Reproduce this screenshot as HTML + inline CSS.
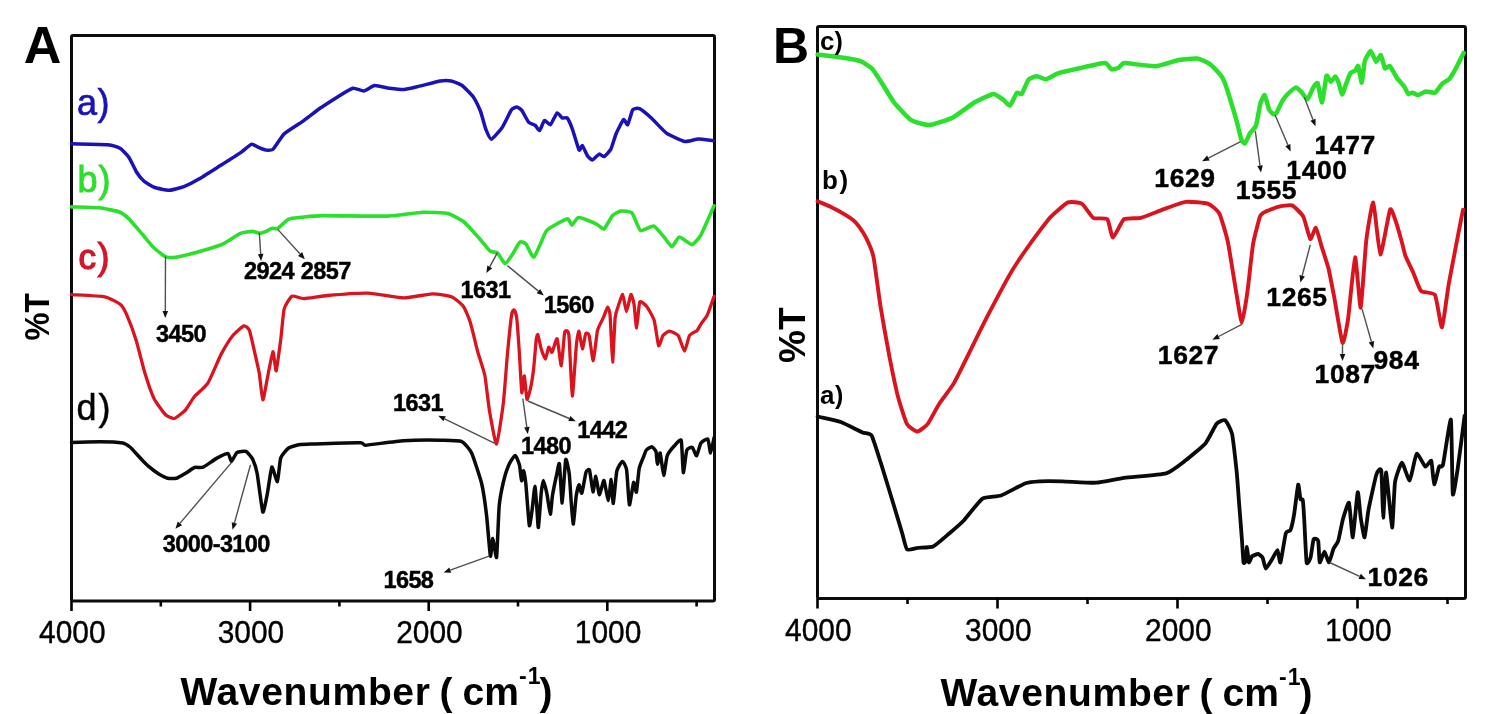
<!DOCTYPE html><html><head><meta charset="utf-8"><style>html,body{margin:0;padding:0;background:#fff;}svg{display:block;font-family:"Liberation Sans",sans-serif;filter:blur(0.45px);}</style></head><body>
<svg width="1489" height="714" viewBox="0 0 1489 714">
<rect width="1489" height="714" fill="#fff"/>
<rect x="71.5" y="35.5" width="643.0" height="565.5" rx="1.5" fill="none" stroke="#0c0c0c" stroke-width="3" stroke-linejoin="round"/><line x1="71.5" y1="601.0" x2="71.5" y2="611.0" stroke="#000" stroke-width="2.6"/><line x1="160.8" y1="601.0" x2="160.8" y2="606.5" stroke="#000" stroke-width="2.6"/><line x1="250.1" y1="601.0" x2="250.1" y2="611.0" stroke="#000" stroke-width="2.6"/><line x1="339.4" y1="601.0" x2="339.4" y2="606.5" stroke="#000" stroke-width="2.6"/><line x1="428.7" y1="601.0" x2="428.7" y2="611.0" stroke="#000" stroke-width="2.6"/><line x1="518.0" y1="601.0" x2="518.0" y2="606.5" stroke="#000" stroke-width="2.6"/><line x1="607.3" y1="601.0" x2="607.3" y2="611.0" stroke="#000" stroke-width="2.6"/><line x1="696.6" y1="601.0" x2="696.6" y2="606.5" stroke="#000" stroke-width="2.6"/>
<text x="0.0" y="0.0" font-size="31.8" font-weight="normal" text-anchor="middle" fill="#000" stroke="#000" stroke-width="0.4" transform="translate(72.3,643) scale(0.94,1)">4000</text>
<text x="0.0" y="0.0" font-size="31.8" font-weight="normal" text-anchor="middle" fill="#000" stroke="#000" stroke-width="0.4" transform="translate(250.9,643) scale(0.94,1)">3000</text>
<text x="0.0" y="0.0" font-size="31.8" font-weight="normal" text-anchor="middle" fill="#000" stroke="#000" stroke-width="0.4" transform="translate(429.5,643) scale(0.94,1)">2000</text>
<text x="0.0" y="0.0" font-size="31.8" font-weight="normal" text-anchor="middle" fill="#000" stroke="#000" stroke-width="0.4" transform="translate(608.1,643) scale(0.94,1)">1000</text>
<text x="23.8" y="63.4" font-size="52" font-weight="bold" text-anchor="start" fill="#000" >A</text>
<text x="180.5" y="705.0" font-size="39" font-weight="bold" letter-spacing="0.66">Wavenumber</text><text x="439.5" y="705.0" font-size="39" font-weight="bold">(</text><text x="462.5" y="705.0" font-size="39" font-weight="bold">cm</text><text x="519.0" y="684.0" font-size="23" font-weight="bold" letter-spacing="1.2">-1</text><text x="539.5" y="705.0" font-size="39" font-weight="bold">)</text>
<text x="0.0" y="0.0" font-size="35" font-weight="bold" text-anchor="middle" fill="#000" transform="translate(49.3,316.8) rotate(-90) scale(0.9,1)">%T</text>
<path d="M71.5,143.8 C74.5,143.9 103.4,144.3 107.4,144.7 C111.4,145.1 118.2,147.2 120.0,148.3 C121.8,149.4 127.6,155.4 129.0,157.4 C130.4,159.4 135.3,170.0 136.5,172.0 C137.7,174.0 142.3,179.7 143.8,181.0 C145.3,182.3 152.6,186.7 154.7,187.5 C156.8,188.3 166.9,190.3 169.3,190.2 C171.7,190.1 181.5,187.5 183.9,186.6 C186.3,185.7 195.4,181.1 198.4,179.3 C201.4,177.6 216.8,167.8 220.3,165.6 C223.8,163.4 237.7,154.7 240.3,152.9 C242.9,151.1 249.8,144.8 251.3,144.3 C252.8,143.8 257.3,146.9 258.5,147.4 C259.7,147.9 264.6,149.9 265.8,150.1 C267.0,150.2 271.6,150.5 273.1,149.2 C274.6,147.9 281.6,136.3 284.0,134.0 C286.4,131.7 298.9,124.0 301.9,121.9 C304.9,119.8 317.0,110.4 320.0,108.3 C323.0,106.2 335.6,98.1 338.3,96.4 C341.0,94.7 350.8,88.7 352.9,88.2 C355.0,87.8 362.0,91.2 363.8,91.0 C365.6,90.8 372.6,85.7 374.7,85.5 C376.8,85.3 386.9,87.9 389.3,88.2 C391.7,88.5 401.5,89.7 403.9,89.5 C406.3,89.3 415.4,87.1 418.4,86.4 C421.4,85.7 437.6,81.5 440.3,81.0 C443.0,80.5 449.4,80.6 451.2,81.0 C453.0,81.4 460.3,84.2 462.1,85.5 C463.9,86.8 471.5,94.3 473.0,96.4 C474.5,98.5 479.3,108.3 480.4,111.0 C481.5,113.7 484.9,126.8 485.8,129.2 C486.7,131.5 489.9,139.3 491.3,139.2 C492.7,139.0 500.5,129.8 502.2,127.4 C503.9,125.0 510.1,111.7 511.3,110.0 C512.5,108.3 515.9,107.0 516.8,107.0 C517.7,107.0 520.8,109.1 521.8,110.4 C522.8,111.7 527.5,120.9 528.6,122.2 C529.7,123.5 534.4,124.8 535.3,125.5 C536.2,126.2 538.7,131.0 539.5,130.6 C540.3,130.2 543.6,121.0 544.5,120.5 C545.4,120.0 549.4,125.3 550.4,124.7 C551.4,124.1 556.1,113.5 557.1,112.9 C558.1,112.3 561.4,117.6 562.2,118.0 C563.0,118.4 566.4,117.1 567.2,118.0 C568.0,118.9 571.3,126.2 572.3,128.9 C573.3,131.6 578.2,148.6 579.0,150.0 C579.8,151.4 581.7,145.2 582.4,145.7 C583.1,146.2 586.6,154.6 587.4,155.8 C588.2,157.0 591.4,160.1 592.4,160.0 C593.4,159.9 598.2,154.4 599.2,154.1 C600.2,153.8 603.2,157.0 604.2,156.6 C605.2,156.2 609.9,151.0 610.9,149.1 C611.9,147.2 615.0,136.4 616.0,134.0 C617.0,131.6 622.5,120.5 623.5,119.7 C624.5,118.9 626.9,125.5 627.7,124.7 C628.5,123.9 631.8,110.9 632.8,109.6 C633.8,108.3 638.0,108.0 639.5,108.7 C641.0,109.4 649.1,116.0 651.3,118.0 C653.5,120.0 663.6,131.1 666.4,133.1 C669.2,135.1 682.2,141.0 684.9,141.5 C687.6,142.0 695.9,139.1 698.3,139.0 C700.7,138.9 712.1,140.6 713.4,140.7" fill="none" stroke="#1a12b8" stroke-width="3.5" stroke-linejoin="round" stroke-linecap="round"/>
<path d="M71.5,206.9 C73.8,207.0 95.3,207.4 99.2,207.8 C103.1,208.2 116.3,210.9 118.8,211.8 C121.2,212.7 126.6,216.7 128.6,218.6 C130.6,220.5 140.3,231.9 142.4,234.3 C144.5,236.8 152.1,246.1 154.1,248.0 C156.1,249.9 163.9,256.2 165.9,256.9 C167.9,257.6 174.7,257.4 177.6,256.9 C180.5,256.4 197.4,252.1 201.2,251.0 C205.0,249.9 219.4,245.6 222.7,244.1 C226.0,242.6 237.9,234.4 240.4,233.3 C242.9,232.2 250.6,231.4 252.2,231.4 C253.8,231.4 258.9,233.3 260.0,233.3 C261.1,233.3 264.9,231.8 265.9,231.4 C266.9,231.0 270.8,228.7 271.8,228.4 C272.8,228.2 276.5,229.0 277.6,228.4 C278.7,227.8 284.5,222.4 285.5,221.6 C286.5,220.8 287.1,219.2 290.1,218.7 C293.1,218.2 313.9,215.8 322.0,215.6 C330.1,215.4 379.2,216.4 387.6,216.1 C396.0,215.8 417.9,212.5 422.9,212.3 C427.9,212.1 444.6,212.8 448.0,213.6 C451.4,214.4 461.4,220.0 464.0,222.0 C466.6,224.0 476.8,235.6 479.0,238.0 C481.2,240.4 488.5,249.8 490.0,251.0 C491.5,252.2 496.2,252.0 497.5,253.0 C498.8,254.0 503.8,263.3 505.0,263.5 C506.2,263.7 510.8,256.8 512.0,255.0 C513.2,253.2 518.8,242.9 520.0,242.0 C521.2,241.1 524.8,242.8 526.0,244.0 C527.2,245.2 532.3,258.1 534.0,257.0 C535.7,255.9 544.2,234.1 546.0,231.4 C547.8,228.7 553.2,226.1 555.0,225.0 C556.8,223.9 566.2,218.7 567.6,218.7 C569.0,218.7 571.1,225.1 572.0,225.0 C572.9,224.9 576.8,218.0 578.0,217.6 C579.2,217.2 585.3,219.4 587.0,220.0 C588.7,220.6 596.6,224.2 598.0,225.0 C599.4,225.8 602.8,229.8 604.0,229.0 C605.2,228.2 611.2,217.0 612.6,215.5 C614.0,214.0 619.4,211.2 621.0,211.0 C622.6,210.8 630.4,211.4 632.0,213.0 C633.6,214.6 638.7,229.4 640.5,230.5 C642.3,231.6 651.6,225.5 653.6,226.0 C655.6,226.5 662.5,235.3 664.0,237.0 C665.5,238.7 670.6,246.6 671.9,246.6 C673.2,246.6 677.7,237.2 679.4,237.0 C681.1,236.8 690.2,244.7 692.0,244.5 C693.8,244.3 699.2,238.0 701.0,234.8 C702.8,231.6 712.9,208.2 714.0,205.8" fill="none" stroke="#2ae02a" stroke-width="3.6" stroke-linejoin="round" stroke-linecap="round"/>
<path d="M71.5,294.6 C74.3,294.8 100.7,296.0 104.8,296.8 C108.9,297.6 118.6,303.0 120.5,304.6 C122.4,306.2 125.9,312.9 127.2,315.9 C128.5,318.9 134.7,335.6 136.2,340.5 C137.7,345.4 143.7,369.2 145.2,374.1 C146.7,379.0 152.4,395.4 154.1,398.8 C155.8,402.2 163.6,412.9 165.3,414.5 C167.0,416.1 172.6,418.9 174.3,418.5 C176.0,418.1 183.8,411.8 185.5,410.0 C187.2,408.2 192.6,398.7 194.5,396.5 C196.4,394.3 205.7,386.7 207.9,383.1 C210.1,379.6 219.2,357.8 221.3,353.9 C223.4,350.0 230.6,338.3 232.5,336.0 C234.4,333.7 242.4,326.4 243.8,325.9 C245.2,325.4 248.5,328.1 249.4,330.4 C250.3,332.7 254.2,350.3 255.0,353.9 C255.8,357.5 258.8,370.3 259.4,374.1 C260.0,377.9 262.1,399.5 262.8,399.9 C263.5,400.3 266.5,382.6 267.3,378.6 C268.1,374.6 272.2,352.3 272.9,351.7 C273.6,351.1 275.6,371.8 276.2,370.8 C276.8,369.8 280.0,345.1 280.7,340.0 C281.4,334.9 283.2,312.8 284.1,309.1 C285.0,305.5 290.3,297.1 291.9,296.2 C293.5,295.3 300.8,298.7 303.8,298.6 C306.8,298.5 322.2,296.0 327.6,295.5 C333.0,295.0 361.8,292.9 368.1,293.1 C374.5,293.3 398.4,297.8 403.8,297.9 C409.2,298.0 428.4,293.9 432.4,293.8 C436.4,293.7 448.8,295.7 451.4,296.7 C454.0,297.7 461.7,304.0 463.3,306.2 C464.9,308.4 469.3,319.1 470.5,322.9 C471.7,326.7 476.4,347.0 477.6,351.4 C478.8,355.8 483.8,370.2 484.8,375.2 C485.8,380.2 488.5,405.3 489.5,411.0 C490.5,416.7 495.3,444.7 496.5,444.0 C497.7,443.3 502.5,410.2 503.4,402.6 C504.3,395.0 506.9,359.6 507.6,352.2 C508.3,344.8 511.2,317.1 511.8,313.6 C512.4,310.1 513.9,309.8 514.3,310.2 C514.7,310.6 516.4,315.1 516.8,318.6 C517.2,322.1 518.9,346.0 519.3,352.2 C519.7,358.4 521.4,390.6 521.8,392.6 C522.2,394.6 524.0,375.2 524.4,375.8 C524.8,376.4 526.4,398.2 526.9,399.3 C527.4,400.4 529.7,391.7 530.3,389.2 C530.9,386.7 533.1,373.1 533.6,369.0 C534.1,364.9 535.8,343.4 536.1,340.5 C536.5,337.6 537.4,333.9 537.8,334.6 C538.2,335.3 540.6,346.9 541.2,348.9 C541.8,350.9 544.8,359.1 545.4,359.0 C546.0,358.9 548.1,347.8 548.7,347.2 C549.3,346.6 551.4,352.9 552.1,352.2 C552.8,351.5 556.3,337.7 557.1,338.8 C557.9,339.9 560.7,366.3 561.3,365.7 C561.9,365.1 564.1,334.6 564.7,332.1 C565.3,329.6 568.3,330.1 568.9,335.4 C569.5,340.7 571.7,395.3 572.3,396.0 C572.9,396.7 575.9,349.2 576.5,343.8 C577.1,338.4 578.5,330.8 579.0,331.2 C579.5,331.6 581.8,348.7 582.4,348.9 C583.0,349.1 585.1,334.8 585.7,333.7 C586.3,332.6 588.5,333.2 589.1,335.4 C589.7,337.6 592.6,361.0 593.3,360.6 C594.0,360.2 596.6,334.1 597.5,330.4 C598.4,326.7 603.0,318.5 603.8,316.6 C604.6,314.7 607.1,307.2 607.6,307.1 C608.1,307.0 609.7,310.7 610.1,315.3 C610.5,319.9 612.2,361.8 612.6,362.0 C613.0,362.2 614.7,322.3 615.1,317.8 C615.5,313.3 617.1,309.6 617.7,307.7 C618.3,305.8 622.0,294.2 622.7,294.5 C623.4,294.8 625.8,311.5 626.5,311.5 C627.2,311.5 630.3,295.1 630.9,294.5 C631.5,293.9 633.5,301.2 634.0,304.0 C634.5,306.8 636.1,328.1 636.6,327.9 C637.1,327.7 638.9,303.9 639.7,302.1 C640.5,300.3 645.5,305.0 646.7,306.5 C647.9,308.0 653.2,317.1 654.2,320.4 C655.2,323.7 657.9,344.3 658.6,345.6 C659.3,346.9 662.1,336.7 663.0,335.5 C663.9,334.3 668.1,331.1 669.4,331.1 C670.7,331.1 676.9,333.8 678.2,335.5 C679.5,337.2 683.6,351.2 684.5,351.2 C685.4,351.2 688.5,337.2 689.5,335.5 C690.5,333.8 696.1,331.3 697.1,330.4 C698.1,329.4 700.1,325.4 700.9,324.1 C701.7,322.8 706.1,317.6 707.2,315.3 C708.3,313.0 713.5,298.0 714.1,296.4" fill="none" stroke="#da141f" stroke-width="3.3" stroke-linejoin="round" stroke-linecap="round"/>
<path d="M71.5,442.4 C73.9,442.3 96.0,441.7 100.3,441.7 C104.6,441.7 120.2,442.5 122.7,442.9 C125.2,443.3 128.9,446.1 130.0,447.0 C131.1,447.9 135.1,452.4 136.2,453.6 C137.3,454.8 141.9,459.9 143.0,461.0 C144.1,462.1 148.3,466.2 149.6,467.2 C150.8,468.2 156.5,472.6 158.0,473.5 C159.5,474.4 166.1,477.8 167.6,478.2 C169.1,478.6 175.0,478.6 176.5,478.2 C178.0,477.8 184.5,473.9 186.0,473.0 C187.5,472.1 193.1,468.0 194.5,467.5 C195.9,467.0 201.5,467.9 203.4,467.1 C205.3,466.3 214.8,459.2 216.9,458.1 C219.0,457.0 226.9,453.3 228.1,453.6 C229.3,453.9 230.7,461.6 231.4,461.5 C232.1,461.4 235.8,453.3 237.0,452.5 C238.2,451.7 244.7,450.8 246.0,451.4 C247.3,452.0 251.8,457.3 252.7,459.2 C253.6,461.1 256.4,469.4 257.2,473.8 C258.0,478.2 262.0,510.2 262.8,511.9 C263.6,513.6 266.6,497.6 267.3,493.9 C268.1,490.2 271.0,468.1 271.8,467.1 C272.6,466.1 276.7,482.4 277.4,481.6 C278.1,480.9 279.8,460.9 280.7,458.1 C281.6,455.3 287.0,449.1 288.6,448.0 C290.2,446.9 297.8,444.9 300.0,444.6 C302.2,444.3 310.1,444.1 315.2,443.9 C320.2,443.7 356.4,442.6 360.6,442.7 C364.8,442.8 362.0,445.4 365.6,445.2 C369.2,445.0 397.1,441.1 403.4,440.7 C409.7,440.3 436.4,440.1 441.2,440.2 C446.0,440.3 458.9,440.3 461.4,441.4 C463.9,442.4 469.8,449.3 471.5,452.8 C473.2,456.3 480.2,477.8 481.5,483.0 C482.8,488.2 485.9,509.7 486.6,515.8 C487.3,521.9 489.9,554.2 490.4,556.1 C490.9,558.0 492.4,538.3 492.9,538.4 C493.4,538.5 496.1,560.0 496.6,557.3 C497.1,554.6 498.6,512.1 499.2,505.8 C499.8,499.5 502.6,485.4 503.4,482.0 C504.2,478.6 508.0,466.7 509.0,464.5 C510.0,462.3 514.4,455.3 515.3,455.4 C516.2,455.5 519.0,463.1 519.5,465.2 C520.0,467.3 521.2,480.1 521.6,480.6 C522.0,481.1 523.4,470.6 523.7,470.8 C524.1,471.0 525.3,478.8 525.8,483.4 C526.3,487.9 528.8,523.2 529.3,525.4 C529.8,527.6 531.6,513.3 532.1,510.0 C532.6,506.7 534.5,486.2 534.9,486.2 C535.3,486.2 536.7,506.6 537.0,510.0 C537.3,513.4 538.0,528.9 538.4,527.5 C538.8,526.1 540.8,497.1 541.2,493.2 C541.6,489.3 542.8,480.6 543.3,480.6 C543.8,480.6 546.2,490.4 546.8,493.2 C547.4,496.0 549.8,514.0 550.3,514.2 C550.8,514.4 551.9,499.3 552.4,496.0 C552.9,492.7 556.0,477.7 556.6,475.0 C557.2,472.3 558.9,461.5 559.4,463.8 C559.9,466.1 561.7,503.4 562.2,503.0 C562.7,502.6 565.1,462.1 565.7,459.6 C566.3,457.2 568.7,470.0 569.2,473.6 C569.7,477.2 570.9,498.8 571.3,503.0 C571.6,507.2 573.0,524.6 573.4,524.0 C573.8,523.4 575.7,499.3 576.2,496.0 C576.7,492.7 578.5,485.0 579.0,484.8 C579.5,484.6 581.2,494.2 581.8,493.2 C582.4,492.1 585.4,474.1 586.0,472.2 C586.6,470.3 588.9,468.5 589.5,470.1 C590.1,471.7 592.5,491.3 593.0,491.8 C593.5,492.3 595.3,476.2 595.8,476.4 C596.3,476.6 598.7,494.0 599.3,494.6 C599.9,495.2 602.4,484.5 602.8,483.4 C603.2,482.3 603.7,479.6 604.2,481.0 C604.7,482.4 607.8,500.7 608.4,500.6 C609.0,500.5 610.8,479.4 611.2,479.6 C611.6,479.8 612.8,504.1 613.3,503.4 C613.8,502.7 616.0,474.7 616.8,471.2 C617.6,467.7 621.6,461.5 622.4,461.4 C623.2,461.3 626.0,466.2 626.6,469.8 C627.2,473.4 628.8,503.8 629.4,504.8 C630.0,505.9 633.0,483.4 633.6,482.4 C634.2,481.3 635.9,493.4 636.4,492.2 C636.9,491.0 638.6,471.3 639.2,468.4 C639.8,465.5 642.8,458.7 643.4,457.2 C644.0,455.7 645.5,451.1 646.2,450.2 C646.9,449.3 651.0,446.6 651.8,446.7 C652.6,446.8 655.5,450.1 656.0,451.6 C656.5,453.1 657.0,464.1 657.4,464.2 C657.8,464.3 659.7,452.1 660.2,453.0 C660.7,453.9 663.1,475.2 663.7,475.4 C664.3,475.6 666.3,458.2 667.2,455.8 C668.1,453.4 673.0,447.3 674.2,446.0 C675.4,444.7 680.4,438.2 681.2,440.4 C682.0,442.6 682.8,471.8 683.3,472.6 C683.8,473.4 686.0,452.3 686.8,450.2 C687.6,448.1 691.6,446.9 692.4,447.4 C693.2,447.9 695.9,456.2 696.6,455.8 C697.3,455.4 699.9,444.6 700.8,443.2 C701.7,441.8 707.0,438.2 707.8,439.0 C708.6,439.8 710.1,453.1 710.6,453.0 C711.1,452.9 713.8,438.9 714.1,437.6" fill="none" stroke="#0a0a0a" stroke-width="3.5" stroke-linejoin="round" stroke-linecap="round"/>
<text x="77.0" y="114.6" font-size="36" font-weight="normal" text-anchor="start" fill="#1a12b8" stroke-width="0.7" stroke="#1a12b8">a</text>
<text x="97.5" y="114.6" font-size="36" font-weight="normal" text-anchor="start" fill="#1a12b8" stroke-width="0.7" stroke="#1a12b8">)</text>
<text x="77.5" y="191.5" font-size="36" font-weight="normal" text-anchor="start" fill="#2ae02a" stroke-width="0.9" stroke="#2ae02a">b</text>
<text x="98.5" y="191.5" font-size="36" font-weight="normal" text-anchor="start" fill="#2ae02a" stroke-width="0.9" stroke="#2ae02a">)</text>
<text x="78.5" y="269.0" font-size="35" font-weight="normal" text-anchor="start" fill="#d41628" stroke-width="1.4" stroke="#d41628">c</text>
<text x="97.5" y="268.5" font-size="36" font-weight="normal" text-anchor="start" fill="#d41628" stroke-width="1.1" stroke="#d41628">)</text>
<text x="76.5" y="420.0" font-size="36" font-weight="normal" text-anchor="start" fill="#000" stroke-width="0.5" stroke="#000">d</text>
<text x="98.5" y="420.0" font-size="36" font-weight="normal" text-anchor="start" fill="#000" stroke-width="0.5" stroke="#000">)</text>
<line x1="165.5" y1="256.4" x2="165.3" y2="311.0" stroke="#505050" stroke-width="1.4"/><polygon points="165.3,318.0 162.5,311.0 168.1,311.0" fill="#111"/>
<text x="181.0" y="342.0" font-size="23.5" font-weight="bold" text-anchor="middle" fill="#000" letter-spacing="-0.6" stroke="#000" stroke-width="0.45">3450</text>
<line x1="259.3" y1="232.7" x2="260.7" y2="254.0" stroke="#505050" stroke-width="1.4"/><polygon points="261.1,261.0 257.9,254.2 263.5,253.8" fill="#111"/>
<text x="269.0" y="279.2" font-size="23.5" font-weight="bold" text-anchor="middle" fill="#000" letter-spacing="-0.6" stroke="#000" stroke-width="0.45">2924</text>
<line x1="277.5" y1="229.1" x2="300.1" y2="254.0" stroke="#505050" stroke-width="1.4"/><polygon points="304.8,259.2 298.0,255.9 302.2,252.1" fill="#111"/>
<text x="325.8" y="279.2" font-size="23.5" font-weight="bold" text-anchor="middle" fill="#000" letter-spacing="-0.6" stroke="#000" stroke-width="0.45">2857</text>
<line x1="497.3" y1="252.8" x2="489.7" y2="266.8" stroke="#505050" stroke-width="1.4"/><polygon points="486.4,273.0 487.3,265.5 492.2,268.2" fill="#111"/>
<text x="485.5" y="297.5" font-size="23.5" font-weight="bold" text-anchor="middle" fill="#000" letter-spacing="-0.6" stroke="#000" stroke-width="0.45">1631</text>
<line x1="507.4" y1="265.6" x2="538.4" y2="291.1" stroke="#505050" stroke-width="1.4"/><polygon points="543.8,295.6 536.6,293.3 540.2,289.0" fill="#111"/>
<text x="568.8" y="312.8" font-size="23.5" font-weight="bold" text-anchor="middle" fill="#000" letter-spacing="-0.6" stroke="#000" stroke-width="0.45">1560</text>
<line x1="494.3" y1="443.1" x2="444.6" y2="418.8" stroke="#505050" stroke-width="1.4"/><polygon points="438.3,415.7 445.8,416.3 443.4,421.3" fill="#111"/>
<text x="418.0" y="411.0" font-size="23.5" font-weight="bold" text-anchor="middle" fill="#000" letter-spacing="-0.6" stroke="#000" stroke-width="0.45">1631</text>
<line x1="522.8" y1="398.5" x2="526.8" y2="427.1" stroke="#505050" stroke-width="1.4"/><polygon points="527.8,434.0 524.1,427.5 529.6,426.7" fill="#111"/>
<text x="546.0" y="454.0" font-size="23.5" font-weight="bold" text-anchor="middle" fill="#000" letter-spacing="-0.6" stroke="#000" stroke-width="0.45">1480</text>
<line x1="527.8" y1="401.0" x2="569.3" y2="418.5" stroke="#505050" stroke-width="1.4"/><polygon points="575.8,421.2 568.3,421.1 570.4,415.9" fill="#111"/>
<text x="602.2" y="437.6" font-size="23.5" font-weight="bold" text-anchor="middle" fill="#000" letter-spacing="-0.6" stroke="#000" stroke-width="0.45">1442</text>
<line x1="231.4" y1="462.6" x2="179.9" y2="523.4" stroke="#505050" stroke-width="1.4"/><polygon points="175.4,528.7 177.8,521.5 182.1,525.2" fill="#111"/>
<line x1="250.5" y1="464.8" x2="234.4" y2="523.1" stroke="#505050" stroke-width="1.4"/><polygon points="232.5,529.8 231.7,522.3 237.1,523.8" fill="#111"/>
<text x="216.3" y="552.2" font-size="23.5" font-weight="bold" text-anchor="middle" fill="#000" letter-spacing="-0.6" stroke="#000" stroke-width="0.45">3000-3100</text>
<line x1="489.1" y1="556.1" x2="450.3" y2="570.1" stroke="#505050" stroke-width="1.4"/><polygon points="443.7,572.5 449.3,567.5 451.2,572.8" fill="#111"/>
<text x="408.4" y="587.6" font-size="23.5" font-weight="bold" text-anchor="middle" fill="#000" letter-spacing="-0.6" stroke="#000" stroke-width="0.45">1658</text>
<rect x="817.5" y="26.5" width="648.0" height="572.0" rx="1.5" fill="none" stroke="#0c0c0c" stroke-width="3" stroke-linejoin="round"/><line x1="817.5" y1="598.5" x2="817.5" y2="608.5" stroke="#000" stroke-width="2.6"/><line x1="907.5" y1="598.5" x2="907.5" y2="604.0" stroke="#000" stroke-width="2.6"/><line x1="997.5" y1="598.5" x2="997.5" y2="608.5" stroke="#000" stroke-width="2.6"/><line x1="1087.5" y1="598.5" x2="1087.5" y2="604.0" stroke="#000" stroke-width="2.6"/><line x1="1177.5" y1="598.5" x2="1177.5" y2="608.5" stroke="#000" stroke-width="2.6"/><line x1="1267.5" y1="598.5" x2="1267.5" y2="604.0" stroke="#000" stroke-width="2.6"/><line x1="1357.5" y1="598.5" x2="1357.5" y2="608.5" stroke="#000" stroke-width="2.6"/><line x1="1447.5" y1="598.5" x2="1447.5" y2="604.0" stroke="#000" stroke-width="2.6"/>
<text x="0.0" y="0.0" font-size="31.8" font-weight="normal" text-anchor="middle" fill="#000" stroke="#000" stroke-width="0.4" transform="translate(818.3,641) scale(0.94,1)">4000</text>
<text x="0.0" y="0.0" font-size="31.8" font-weight="normal" text-anchor="middle" fill="#000" stroke="#000" stroke-width="0.4" transform="translate(998.3,641) scale(0.94,1)">3000</text>
<text x="0.0" y="0.0" font-size="31.8" font-weight="normal" text-anchor="middle" fill="#000" stroke="#000" stroke-width="0.4" transform="translate(1178.3,641) scale(0.94,1)">2000</text>
<text x="0.0" y="0.0" font-size="31.8" font-weight="normal" text-anchor="middle" fill="#000" stroke="#000" stroke-width="0.4" transform="translate(1358.3,641) scale(0.94,1)">1000</text>
<text x="773.0" y="63.0" font-size="50" font-weight="bold" text-anchor="start" fill="#000" >B</text>
<text x="940.5" y="706.2" font-size="39" font-weight="bold" letter-spacing="0.66">Wavenumber</text><text x="1199.5" y="706.2" font-size="39" font-weight="bold">(</text><text x="1222.5" y="706.2" font-size="39" font-weight="bold">cm</text><text x="1279.0" y="685.2" font-size="23" font-weight="bold" letter-spacing="1.2">-1</text><text x="1299.5" y="706.2" font-size="39" font-weight="bold">)</text>
<text x="0.0" y="0.0" font-size="37" font-weight="bold" text-anchor="middle" fill="#000" transform="translate(805.4,335.2) rotate(-90)">%T</text>
<path d="M817.6,54.4 C819.8,54.7 840.0,57.1 843.6,57.7 C847.2,58.3 858.0,60.2 860.4,61.1 C862.8,62.0 870.4,66.8 872.2,68.7 C874.0,70.6 880.5,81.0 882.3,83.8 C884.1,86.6 891.6,99.3 894.0,102.3 C896.4,105.3 907.9,118.0 910.8,119.9 C913.7,121.8 925.8,125.2 929.3,125.0 C932.8,124.8 949.1,119.3 952.9,117.4 C956.7,115.5 971.3,104.3 974.7,102.3 C978.1,100.3 990.8,94.1 993.2,93.9 C995.6,93.7 1001.9,98.7 1003.3,99.7 C1004.7,100.7 1008.9,106.2 1010.0,105.6 C1011.1,105.0 1015.7,94.0 1016.7,93.0 C1017.7,92.0 1020.8,95.0 1021.8,93.9 C1022.8,92.8 1027.2,81.1 1028.5,79.6 C1029.8,78.1 1035.4,76.2 1036.9,76.2 C1038.4,76.2 1044.4,79.6 1046.2,79.3 C1048.0,79.0 1055.8,74.0 1058.5,73.1 C1061.2,72.2 1074.7,69.3 1078.5,68.5 C1082.3,67.7 1101.9,63.0 1104.7,63.1 C1107.5,63.2 1110.4,68.9 1111.6,69.3 C1112.8,69.7 1117.5,68.3 1118.6,67.8 C1119.7,67.3 1121.6,63.2 1124.7,63.1 C1127.8,63.0 1151.1,66.5 1155.6,66.2 C1160.1,65.9 1175.2,60.6 1178.7,60.0 C1182.2,59.4 1194.6,58.2 1197.2,58.5 C1199.8,58.8 1207.6,62.5 1209.5,63.9 C1211.4,65.2 1219.0,73.2 1220.3,74.7 C1221.5,76.2 1223.6,79.7 1224.5,82.0 C1225.4,84.3 1230.0,98.7 1231.0,102.0 C1232.0,105.3 1236.0,118.4 1236.8,121.5 C1237.6,124.6 1240.5,137.3 1241.2,139.1 C1241.9,140.9 1244.2,144.0 1244.9,143.5 C1245.6,143.0 1249.1,134.7 1250.0,133.2 C1250.9,131.7 1255.0,128.3 1255.9,125.9 C1256.8,123.5 1259.6,106.4 1260.3,103.8 C1261.0,101.2 1264.0,94.5 1264.7,95.0 C1265.4,95.5 1268.4,108.1 1269.1,109.7 C1269.8,111.3 1272.9,113.9 1273.5,114.1 C1274.1,114.3 1275.8,113.7 1276.5,112.6 C1277.2,111.5 1281.5,102.4 1282.4,100.9 C1283.3,99.4 1285.7,96.1 1286.8,95.0 C1287.9,93.9 1294.4,87.8 1295.6,87.6 C1296.8,87.4 1300.5,91.1 1301.5,92.1 C1302.5,93.1 1306.4,99.8 1307.4,99.4 C1308.4,99.0 1312.4,88.9 1313.2,87.6 C1314.0,86.2 1316.9,82.0 1317.6,83.2 C1318.3,84.4 1321.4,103.0 1322.1,102.4 C1322.8,101.8 1325.8,77.6 1326.5,75.9 C1327.2,74.2 1330.2,81.7 1330.9,81.8 C1331.6,81.9 1334.7,76.5 1335.3,76.6 C1335.9,76.7 1338.0,81.1 1338.6,82.6 C1339.2,84.1 1341.5,94.3 1342.1,94.5 C1342.7,94.7 1345.0,86.8 1345.7,85.0 C1346.4,83.2 1349.7,74.3 1350.5,73.1 C1351.3,71.9 1354.6,71.3 1355.2,70.7 C1355.8,70.1 1357.7,65.0 1358.2,66.0 C1358.8,67.0 1361.2,83.0 1361.8,82.6 C1362.3,82.2 1364.1,63.8 1364.8,61.2 C1365.5,58.6 1369.8,51.1 1370.7,51.1 C1371.6,51.1 1375.3,61.5 1376.1,61.8 C1376.9,62.1 1380.1,54.7 1380.8,55.2 C1381.5,55.7 1384.2,67.4 1385.0,68.3 C1385.8,69.2 1388.8,65.2 1389.8,66.0 C1390.8,66.8 1395.7,76.2 1396.9,77.9 C1398.1,79.6 1403.1,84.9 1404.0,86.2 C1404.9,87.5 1407.5,93.4 1408.2,93.9 C1408.9,94.4 1411.6,92.6 1412.4,92.7 C1413.2,92.8 1417.2,95.2 1418.3,95.1 C1419.4,95.0 1424.1,91.7 1425.5,91.5 C1426.9,91.3 1433.6,93.3 1435.0,92.7 C1436.4,92.1 1440.9,84.9 1442.1,83.8 C1443.3,82.7 1448.2,80.2 1449.3,79.0 C1450.4,77.8 1454.0,71.7 1455.2,69.5 C1456.4,67.3 1462.9,54.3 1463.6,52.9" fill="none" stroke="#2ae02a" stroke-width="4.5" stroke-linejoin="round" stroke-linecap="round"/>
<path d="M817.6,201.3 C818.7,201.8 828.7,205.8 831.0,206.9 C833.3,208.0 843.0,213.4 845.0,214.6 C847.0,215.8 853.3,220.1 854.8,221.6 C856.3,223.1 861.9,230.7 863.2,232.8 C864.5,234.9 869.3,244.7 870.2,246.8 C871.1,248.9 872.8,253.0 873.7,258.0 C874.6,263.0 879.3,298.8 880.6,307.0 C881.9,315.2 887.9,348.9 889.4,356.5 C890.9,364.1 896.7,392.0 898.2,397.6 C899.7,403.2 905.4,421.3 907.0,424.1 C908.6,426.9 915.7,431.5 917.4,431.5 C919.1,431.5 925.8,426.4 927.6,424.1 C929.4,421.8 937.2,406.9 939.4,403.5 C941.6,400.1 951.4,387.6 954.1,382.9 C956.8,378.2 968.9,353.5 971.8,347.6 C974.7,341.7 986.2,318.5 989.4,312.4 C992.6,306.3 1007.1,279.2 1010.0,274.1 C1012.9,269.0 1022.2,255.1 1024.7,251.5 C1027.2,247.9 1037.8,233.3 1040.0,230.4 C1042.2,227.5 1048.9,218.7 1051.2,216.4 C1053.5,214.1 1065.4,203.5 1068.0,202.4 C1070.6,201.3 1079.9,202.5 1082.0,203.8 C1084.1,205.1 1091.2,216.5 1093.3,217.8 C1095.4,219.1 1105.7,217.6 1107.3,219.2 C1108.9,220.8 1111.5,237.5 1112.9,237.5 C1114.3,237.5 1121.8,220.8 1124.1,219.2 C1126.4,217.6 1137.6,218.6 1140.9,217.8 C1144.2,217.0 1159.6,210.7 1163.3,209.4 C1167.0,208.1 1182.0,202.4 1185.7,201.9 C1189.4,201.4 1205.4,202.8 1208.2,203.8 C1211.0,204.8 1217.8,210.4 1219.4,213.6 C1221.0,216.8 1226.4,235.2 1227.8,241.7 C1229.2,248.2 1235.0,285.3 1236.2,292.1 C1237.4,298.9 1240.9,322.9 1241.8,322.9 C1242.7,322.9 1246.5,298.6 1247.4,292.1 C1248.3,285.6 1252.0,250.8 1253.0,244.5 C1254.0,238.2 1259.1,219.1 1260.0,216.4 C1260.9,213.7 1262.5,213.2 1264.0,212.4 C1265.5,211.6 1275.7,207.4 1278.0,206.8 C1280.3,206.2 1289.9,204.6 1292.0,205.4 C1294.1,206.2 1301.8,213.8 1303.3,216.6 C1304.8,219.4 1309.2,238.1 1310.3,239.0 C1311.3,239.9 1315.0,227.2 1315.9,227.8 C1316.8,228.4 1320.5,242.7 1321.5,246.1 C1322.5,249.5 1327.5,264.3 1328.5,268.5 C1329.5,272.7 1332.9,290.3 1334.1,296.5 C1335.3,302.7 1341.3,340.8 1342.5,342.7 C1343.7,344.6 1347.0,326.0 1348.1,318.9 C1349.1,311.8 1354.0,258.2 1355.1,257.3 C1356.1,256.4 1359.8,309.1 1360.7,307.7 C1361.6,306.3 1365.2,249.2 1366.3,240.4 C1367.3,231.6 1372.1,201.4 1373.3,202.6 C1374.5,203.8 1378.9,253.9 1380.3,254.5 C1381.7,255.1 1388.8,212.3 1390.1,209.6 C1391.4,206.9 1395.1,219.5 1396.0,222.0 C1396.9,224.5 1400.5,237.2 1401.3,240.0 C1402.1,242.8 1404.5,253.3 1405.5,256.0 C1406.5,258.7 1411.7,269.1 1413.0,272.0 C1414.3,274.9 1419.2,289.0 1421.0,290.9 C1422.8,292.8 1433.2,292.1 1435.0,295.1 C1436.8,298.1 1440.8,328.4 1442.0,327.3 C1443.2,326.2 1447.2,292.3 1449.0,282.5 C1450.8,272.7 1461.8,215.7 1463.0,209.6" fill="none" stroke="#da141f" stroke-width="3.9" stroke-linejoin="round" stroke-linecap="round"/>
<path d="M817.6,416.5 C819.5,417.0 837.1,420.7 840.8,422.0 C844.5,423.3 859.8,431.3 862.4,432.4 C865.0,433.5 870.1,432.9 871.6,435.5 C873.1,438.1 879.1,457.6 880.9,463.2 C882.7,468.8 891.4,497.3 893.2,503.2 C895.0,509.1 901.2,530.1 902.4,534.0 C903.5,537.9 905.7,548.2 907.0,549.4 C908.3,550.6 915.6,548.1 917.8,547.9 C920.0,547.6 930.6,547.6 933.2,546.4 C935.8,545.2 946.0,536.2 948.6,534.0 C951.2,531.8 961.2,523.2 964.0,520.2 C966.8,517.2 979.4,500.7 982.5,498.6 C985.6,496.5 997.4,496.8 1001.0,495.5 C1004.6,494.2 1022.3,484.4 1025.6,483.2 C1028.8,482.0 1036.9,481.5 1040.0,481.3 C1043.1,481.1 1057.7,481.2 1062.4,481.3 C1067.1,481.4 1090.9,483.0 1096.0,482.7 C1101.1,482.4 1118.3,478.7 1124.1,477.9 C1129.9,477.1 1161.0,474.9 1166.1,473.4 C1171.2,471.9 1182.4,462.8 1185.7,460.3 C1189.0,457.8 1202.8,446.4 1205.4,443.4 C1208.0,440.4 1215.0,425.7 1216.6,423.8 C1218.2,421.9 1223.7,419.4 1225.0,420.2 C1226.3,421.0 1231.0,429.5 1232.0,433.6 C1233.0,437.8 1235.9,464.4 1236.5,470.0 C1237.1,475.6 1238.5,495.0 1238.9,500.8 C1239.4,506.6 1241.5,534.2 1241.9,539.3 C1242.3,544.4 1243.2,560.6 1243.5,562.4 C1243.8,564.2 1245.5,562.2 1245.8,560.9 C1246.1,559.6 1246.7,546.9 1247.0,547.0 C1247.3,547.1 1248.5,561.6 1248.9,562.4 C1249.3,563.2 1251.2,557.0 1252.0,556.3 C1252.8,555.6 1257.2,553.9 1258.1,554.0 C1259.0,554.1 1262.1,556.6 1262.7,557.8 C1263.3,559.0 1265.0,568.5 1265.8,568.6 C1266.6,568.7 1271.0,560.9 1272.0,559.4 C1273.0,557.9 1276.7,549.9 1277.4,550.1 C1278.1,550.4 1279.8,563.8 1280.5,562.4 C1281.2,561.0 1285.0,535.9 1285.8,533.2 C1286.6,530.5 1289.8,531.8 1290.5,530.1 C1291.2,528.4 1293.7,516.9 1294.3,513.1 C1294.9,509.3 1297.7,485.8 1298.2,484.6 C1298.7,483.5 1300.1,498.0 1300.5,499.3 C1300.9,500.6 1302.5,498.2 1302.8,500.0 C1303.1,501.8 1304.0,515.6 1304.3,520.8 C1304.6,526.0 1306.1,559.3 1306.6,562.4 C1307.1,565.5 1309.9,559.7 1310.5,557.8 C1311.1,555.9 1313.0,540.7 1313.6,539.3 C1314.2,537.9 1317.7,539.0 1318.2,540.9 C1318.7,542.8 1319.2,561.5 1319.7,562.4 C1320.2,563.3 1323.6,551.7 1324.4,551.7 C1325.2,551.7 1328.2,562.7 1329.0,562.4 C1329.8,562.1 1332.8,550.4 1333.6,548.6 C1334.4,546.8 1337.4,543.3 1338.2,540.9 C1339.0,538.5 1342.0,522.5 1342.9,519.3 C1343.8,516.1 1348.2,501.3 1349.0,502.8 C1349.8,504.3 1352.1,538.2 1352.8,537.3 C1353.5,536.4 1357.0,493.8 1357.7,492.2 C1358.4,490.6 1360.1,513.8 1360.7,517.6 C1361.3,521.4 1363.9,537.9 1364.6,537.3 C1365.2,536.6 1367.5,515.0 1368.5,509.8 C1369.5,504.6 1375.3,477.8 1376.4,474.5 C1377.5,471.2 1380.7,467.0 1381.3,470.6 C1381.9,474.2 1382.8,517.4 1383.2,517.6 C1383.6,517.8 1385.5,471.7 1386.2,472.5 C1386.9,473.3 1391.4,526.7 1392.1,527.5 C1392.8,528.3 1394.2,487.8 1395.0,482.4 C1395.8,477.0 1400.7,462.9 1401.9,462.7 C1403.1,462.5 1408.5,481.1 1409.7,480.4 C1410.9,479.7 1415.3,455.0 1416.6,453.9 C1417.9,452.8 1424.2,466.1 1425.4,466.7 C1426.6,467.3 1430.6,459.3 1431.3,460.8 C1432.0,462.3 1433.5,483.8 1434.2,484.3 C1434.9,484.8 1438.4,468.3 1439.1,466.7 C1439.8,465.1 1442.0,468.6 1443.0,464.7 C1444.0,460.8 1450.1,417.2 1450.9,419.6 C1451.7,422.1 1452.2,490.0 1452.8,494.1 C1453.4,498.2 1456.7,475.1 1457.7,468.6 C1458.7,462.1 1464.0,420.1 1464.6,415.7" fill="none" stroke="#0a0a0a" stroke-width="3.8" stroke-linejoin="round" stroke-linecap="round"/>
<text x="820.0" y="50.2" font-size="26" font-weight="bold" text-anchor="start" fill="#000" >c</text>
<text x="834.5" y="50.2" font-size="25" font-weight="bold" text-anchor="start" fill="#000" >)</text>
<text x="822.0" y="189.4" font-size="26" font-weight="bold" text-anchor="start" fill="#000" >b</text>
<text x="839.5" y="189.4" font-size="26" font-weight="bold" text-anchor="start" fill="#000" >)</text>
<text x="820.0" y="403.8" font-size="26" font-weight="bold" text-anchor="start" fill="#000" >a</text>
<text x="835.0" y="403.8" font-size="25" font-weight="bold" text-anchor="start" fill="#000" >)</text>
<line x1="1240.6" y1="141.7" x2="1208.3" y2="158.1" stroke="#505050" stroke-width="1.4"/><polygon points="1202.1,161.3 1207.1,155.6 1209.6,160.6" fill="#111"/>
<text x="1185.0" y="187.2" font-size="26.5" font-weight="bold" text-anchor="middle" fill="#000" letter-spacing="0.6" stroke="#000" stroke-width="0.45">1629</text>
<line x1="1255.3" y1="131.2" x2="1260.0" y2="165.6" stroke="#505050" stroke-width="1.4"/><polygon points="1261.0,172.5 1257.3,165.9 1262.8,165.2" fill="#111"/>
<text x="1266.5" y="199.1" font-size="26.5" font-weight="bold" text-anchor="middle" fill="#000" letter-spacing="0.6" stroke="#000" stroke-width="0.45">1555</text>
<line x1="1275.1" y1="115.1" x2="1287.9" y2="145.1" stroke="#505050" stroke-width="1.4"/><polygon points="1290.6,151.5 1285.3,146.2 1290.4,144.0" fill="#111"/>
<text x="1317.0" y="178.8" font-size="26.5" font-weight="bold" text-anchor="middle" fill="#000" letter-spacing="0.6" stroke="#000" stroke-width="0.45">1400</text>
<line x1="1304.3" y1="97.2" x2="1313.0" y2="119.8" stroke="#505050" stroke-width="1.4"/><polygon points="1315.5,126.3 1310.4,120.8 1315.6,118.8" fill="#111"/>
<text x="1345.2" y="154.3" font-size="26.5" font-weight="bold" text-anchor="middle" fill="#000" letter-spacing="0.6" stroke="#000" stroke-width="0.45">1477</text>
<line x1="1241.8" y1="324.3" x2="1218.6" y2="336.5" stroke="#505050" stroke-width="1.4"/><polygon points="1212.4,339.8 1217.3,334.1 1219.9,339.0" fill="#111"/>
<text x="1188.5" y="363.6" font-size="26.5" font-weight="bold" text-anchor="middle" fill="#000" letter-spacing="0.6" stroke="#000" stroke-width="0.45">1627</text>
<line x1="1310.3" y1="244.7" x2="1302.2" y2="275.7" stroke="#505050" stroke-width="1.4"/><polygon points="1300.4,282.5 1299.5,275.0 1304.9,276.4" fill="#111"/>
<text x="1297.0" y="306.3" font-size="26.5" font-weight="bold" text-anchor="middle" fill="#000" letter-spacing="0.6" stroke="#000" stroke-width="0.45">1265</text>
<line x1="1342.5" y1="344.1" x2="1342.5" y2="354.0" stroke="#505050" stroke-width="1.4"/><polygon points="1342.5,361.0 1339.7,354.0 1345.3,354.0" fill="#111"/>
<text x="1345.3" y="383.4" font-size="26.5" font-weight="bold" text-anchor="middle" fill="#000" letter-spacing="0.6" stroke="#000" stroke-width="0.45">1087</text>
<line x1="1362.1" y1="309.1" x2="1371.4" y2="341.7" stroke="#505050" stroke-width="1.4"/><polygon points="1373.3,348.4 1368.7,342.4 1374.1,340.9" fill="#111"/>
<text x="1396.5" y="369.4" font-size="26.5" font-weight="bold" text-anchor="middle" fill="#000" letter-spacing="0.6" stroke="#000" stroke-width="0.45">984</text>
<line x1="1329.6" y1="562.5" x2="1359.6" y2="576.4" stroke="#505050" stroke-width="1.4"/><polygon points="1366.0,579.3 1358.5,578.9 1360.8,573.8" fill="#111"/>
<text x="1398.3" y="586.3" font-size="26.5" font-weight="bold" text-anchor="middle" fill="#000" letter-spacing="0.6" stroke="#000" stroke-width="0.45">1026</text>
</svg></body></html>
